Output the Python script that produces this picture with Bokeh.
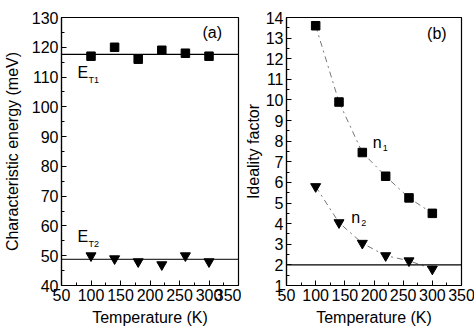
from bokeh.plotting import figure
from bokeh.layouts import row
from bokeh.models import FixedTicker, Span, Range1d
from bokeh.core.properties import value
from bokeh.embed import file_html
from bokeh.resources import INLINE

# ---- data ----
temps = [100, 140, 180, 220, 260, 300]
et1 = [117, 120, 116, 119, 118, 117]
et2 = [50, 49, 48, 47, 50, 48]
et1_level = 117.6
et2_level = 48.8
n1 = [13.6, 9.9, 7.45, 6.3, 5.25, 4.5]
n2 = [5.8, 4.05, 3.05, 2.45, 2.2, 1.8]
n_level = 2.0
x_ticks = [50, 100, 150, 200, 250, 300, 350]
ya_ticks = [40, 50, 60, 70, 80, 90, 100, 110, 120, 130]
yb_ticks = list(range(1, 15))

FONT = "Liberation Sans"
FS = "16px"


def style(p, xt, yt, xminor, yminor, ylab_standoff):
    p.xgrid.visible = False
    p.ygrid.visible = False
    p.outline_line_color = "black"
    p.outline_line_width = 1.2
    for ax in (p.xaxis[0], p.yaxis[0]):
        ax.axis_line_color = "black"
        ax.axis_line_width = 1.2
        ax.major_tick_in = 5
        ax.major_tick_out = 0
        ax.minor_tick_in = 3
        ax.minor_tick_out = 0
        ax.major_tick_line_color = "black"
        ax.minor_tick_line_color = "black"
        ax.major_label_text_font = FONT
        ax.major_label_text_font_size = FS
        ax.major_label_text_color = "black"
        ax.axis_label_text_font = FONT
        ax.axis_label_text_font_size = FS
        ax.axis_label_text_font_style = "normal"
        ax.axis_label_text_color = "black"
    p.xaxis[0].ticker = FixedTicker(ticks=xt, minor_ticks=xminor)
    p.yaxis[0].ticker = FixedTicker(ticks=yt, minor_ticks=yminor)
    p.xaxis[0].major_label_standoff = 3
    p.yaxis[0].major_label_standoff = 3
    p.xaxis[0].axis_label_standoff = 5
    p.yaxis[0].axis_label_standoff = ylab_standoff


def txt(p, x, y, s, size=FS, xo=0, yo=0):
    p.text(x=[x], y=[y], text=[s], text_font=value(FONT), text_font_size=size,
           text_align="left", text_baseline="middle", text_color="black",
           x_offset=xo, y_offset=yo)


# ---- panel (a) ----
pa = figure(frame_width=177, frame_height=268, min_border_left=60, min_border_right=3,
            min_border_top=17, min_border_bottom=47, output_backend="svg",
            toolbar_location=None, x_range=Range1d(50, 350), y_range=Range1d(40, 130))
style(pa, x_ticks, ya_ticks, [75 + 50 * i for i in range(6)], [45 + 10 * i for i in range(9)], 8)
pa.xaxis.axis_label = "Temperature (K)"
pa.yaxis.axis_label = "Characteristic energy (meV)"
pa.add_layout(Span(location=et1_level, dimension="width", line_color="black", line_width=1.3))
pa.add_layout(Span(location=et2_level, dimension="width", line_color="black", line_width=1))
pa.scatter(temps, et1, marker="square", size=8.5, color="black")
pa.scatter(temps, et2, marker="inverted_triangle", size=10, color="black")
txt(pa, 289, 125, "(a)")
txt(pa, 77, 111.5, "E")
txt(pa, 77, 111.5, "T1", size="9px", xo=11, yo=7)
txt(pa, 77, 56.3, "E")
txt(pa, 77, 56.3, "T2", size="9px", xo=11, yo=7)

# ---- panel (b) ----
pb = figure(frame_width=175, frame_height=268, min_border_left=44, min_border_right=15,
            min_border_top=17, min_border_bottom=47, output_backend="svg",
            toolbar_location=None, x_range=Range1d(50, 350), y_range=Range1d(1, 14))
style(pb, x_ticks, yb_ticks, [75 + 50 * i for i in range(6)], [1.5 + i for i in range(13)], 1)
pb.xaxis.axis_label = "Temperature (K)"
pb.yaxis.axis_label = "Ideality factor"
pb.add_layout(Span(location=n_level, dimension="width", line_color="black", line_width=1.3))
pb.line(temps, n1, line_color="#777777", line_width=1, line_dash="dashdot")
pb.line(temps, n2, line_color="#777777", line_width=1, line_dash="dashdot")
pb.scatter(temps, n1, marker="square", size=8.5, color="black")
pb.scatter(temps, n2, marker="inverted_triangle", size=10, color="black")
txt(pb, 291, 13.22, "(b)")
txt(pb, 198, 7.95, "n")
txt(pb, 198, 7.95, "1", size="9px", xo=10, yo=6)
txt(pb, 161, 4.3, "n")
txt(pb, 161, 4.3, "2", size="9px", xo=10, yo=6)

layout = row(pa, pb, spacing=0)
open("out.html", "w").write(file_html(layout, INLINE))
